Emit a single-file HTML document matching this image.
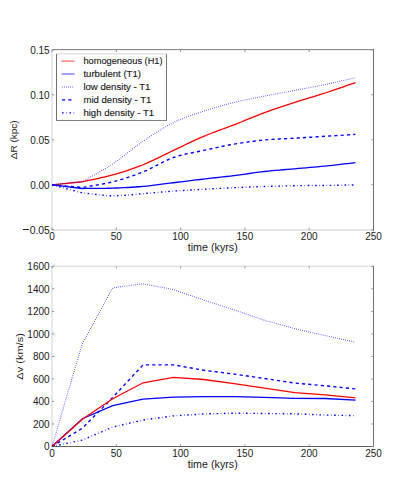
<!DOCTYPE html>
<html><head><meta charset="utf-8"><style>
html,body{margin:0;padding:0;background:#fff;}
body{width:415px;height:496px;overflow:hidden;}
svg{display:block;}
text{font-family:"Liberation Sans",sans-serif;fill:#1a1a1a;}
.lg{stroke:#1a1a1a;stroke-width:0.14px;}
</style></head><body>
<svg width="415" height="496" viewBox="0 0 415 496">

<clipPath id="c1"><rect x="52.0" y="49.8" width="321.5" height="180.0"/></clipPath>
<rect x="52" y="49" width="322" height="1" fill="#8a8a8a"/>
<rect x="52" y="50" width="322" height="1" fill="#f0f0f0"/>
<rect x="52" y="229" width="322" height="2" fill="#e4e4e4"/>
<rect x="51" y="49" width="2" height="182" fill="#e8e8e8"/>
<rect x="373" y="49" width="1" height="182" fill="#6e6e6e"/>
<line x1="52.00" y1="229.8" x2="52.00" y2="227.60000000000002" stroke="#777" stroke-width="0.8"/>
<line x1="52.00" y1="49.8" x2="52.00" y2="52.0" stroke="#777" stroke-width="0.8"/>
<text x="52.00" y="240.20" font-size="10" text-anchor="middle">0</text>
<line x1="116.30" y1="229.8" x2="116.30" y2="227.60000000000002" stroke="#777" stroke-width="0.8"/>
<line x1="116.30" y1="49.8" x2="116.30" y2="52.0" stroke="#777" stroke-width="0.8"/>
<text x="116.30" y="240.20" font-size="10" text-anchor="middle">50</text>
<line x1="180.60" y1="229.8" x2="180.60" y2="227.60000000000002" stroke="#777" stroke-width="0.8"/>
<line x1="180.60" y1="49.8" x2="180.60" y2="52.0" stroke="#777" stroke-width="0.8"/>
<text x="180.60" y="240.20" font-size="10" text-anchor="middle">100</text>
<line x1="244.90" y1="229.8" x2="244.90" y2="227.60000000000002" stroke="#777" stroke-width="0.8"/>
<line x1="244.90" y1="49.8" x2="244.90" y2="52.0" stroke="#777" stroke-width="0.8"/>
<text x="244.90" y="240.20" font-size="10" text-anchor="middle">150</text>
<line x1="309.20" y1="229.8" x2="309.20" y2="227.60000000000002" stroke="#777" stroke-width="0.8"/>
<line x1="309.20" y1="49.8" x2="309.20" y2="52.0" stroke="#777" stroke-width="0.8"/>
<text x="309.20" y="240.20" font-size="10" text-anchor="middle">200</text>
<line x1="373.50" y1="229.8" x2="373.50" y2="227.60000000000002" stroke="#777" stroke-width="0.8"/>
<line x1="373.50" y1="49.8" x2="373.50" y2="52.0" stroke="#777" stroke-width="0.8"/>
<text x="373.50" y="240.20" font-size="10" text-anchor="middle">250</text>
<line x1="52.0" y1="229.80" x2="54.2" y2="229.80" stroke="#777" stroke-width="0.8"/>
<line x1="373.5" y1="229.80" x2="371.3" y2="229.80" stroke="#777" stroke-width="0.8"/>
<text x="49.9" y="233.60" font-size="10" text-anchor="end" textLength="20.2" lengthAdjust="spacingAndGlyphs">0.05</text>
<rect x="22.9" y="229.0" width="6.0" height="1.0" fill="#222"/>
<line x1="52.0" y1="184.80" x2="54.2" y2="184.80" stroke="#777" stroke-width="0.8"/>
<line x1="373.5" y1="184.80" x2="371.3" y2="184.80" stroke="#777" stroke-width="0.8"/>
<text x="49.6" y="188.60" font-size="10" text-anchor="end">0.00</text>
<line x1="52.0" y1="139.80" x2="54.2" y2="139.80" stroke="#777" stroke-width="0.8"/>
<line x1="373.5" y1="139.80" x2="371.3" y2="139.80" stroke="#777" stroke-width="0.8"/>
<text x="49.6" y="143.60" font-size="10" text-anchor="end">0.05</text>
<line x1="52.0" y1="94.80" x2="54.2" y2="94.80" stroke="#777" stroke-width="0.8"/>
<line x1="373.5" y1="94.80" x2="371.3" y2="94.80" stroke="#777" stroke-width="0.8"/>
<text x="49.6" y="98.60" font-size="10" text-anchor="end">0.10</text>
<line x1="52.0" y1="49.80" x2="54.2" y2="49.80" stroke="#777" stroke-width="0.8"/>
<line x1="373.5" y1="49.80" x2="371.3" y2="49.80" stroke="#777" stroke-width="0.8"/>
<text x="49.6" y="53.60" font-size="10" text-anchor="end">0.15</text>
<text x="212.75" y="251" font-size="10" text-anchor="middle" textLength="50" lengthAdjust="spacingAndGlyphs">time (kyrs)</text>
<text x="0" y="0" font-size="9" text-anchor="middle" textLength="39" lengthAdjust="spacingAndGlyphs" transform="translate(17.0,139.80) rotate(-90)">ΔR (kpc)</text>
<g clip-path="url(#c1)" fill="none">
<polyline points="52.00,184.80 82.35,181.74 86.14,180.91 89.94,180.11 93.73,179.32 97.52,178.53 101.32,177.71 105.11,176.84 108.91,175.91 112.70,174.90 116.49,173.82 120.29,172.69 124.08,171.51 127.88,170.28 131.67,168.99 135.46,167.64 139.26,166.22 143.05,164.73 146.84,163.14 150.64,161.44 154.43,159.66 158.23,157.82 162.02,155.96 165.81,154.08 169.61,152.23 173.40,150.42 177.19,148.63 180.99,146.81 184.78,144.99 188.58,143.18 192.37,141.39 196.16,139.63 199.96,137.93 203.75,136.29 207.54,134.73 211.34,133.24 215.13,131.80 218.93,130.40 222.72,129.01 226.51,127.63 230.31,126.22 234.10,124.77 237.89,123.28 241.69,121.75 245.48,120.21 249.28,118.67 253.07,117.13 256.86,115.62 260.66,114.14 264.45,112.71 268.24,111.33 272.04,109.98 275.83,108.66 279.63,107.37 283.42,106.09 287.21,104.84 291.01,103.59 294.80,102.36 298.59,101.15 302.39,99.98 306.18,98.82 309.98,97.69 313.77,96.55 317.56,95.39 321.36,94.21 325.15,93.00 328.94,91.75 332.74,90.47 336.53,89.16 340.32,87.85 344.12,86.52 347.91,85.20 351.71,83.87 355.50,82.56" stroke="#ff0000" stroke-width="1.3"/>
<polyline points="52.00,184.80 82.35,188.49 86.14,188.45 89.94,188.43 93.73,188.41 97.52,188.39 101.32,188.36 105.11,188.31 108.91,188.24 112.70,188.13 116.49,187.99 120.29,187.84 124.08,187.67 127.88,187.48 131.67,187.27 135.46,187.02 139.26,186.74 143.05,186.42 146.84,186.05 150.64,185.64 154.43,185.18 158.23,184.70 162.02,184.20 165.81,183.70 169.61,183.20 173.40,182.73 177.19,182.27 180.99,181.80 184.78,181.33 188.58,180.87 192.37,180.40 196.16,179.94 199.96,179.49 203.75,179.04 207.54,178.60 211.34,178.18 215.13,177.77 218.93,177.36 222.72,176.94 226.51,176.52 230.31,176.08 234.10,175.62 237.89,175.13 241.69,174.60 245.48,174.06 249.28,173.51 253.07,172.96 256.86,172.43 260.66,171.93 264.45,171.48 268.24,171.07 272.04,170.70 275.83,170.36 279.63,170.04 283.42,169.73 287.21,169.42 291.01,169.11 294.80,168.78 298.59,168.45 302.39,168.12 306.18,167.80 309.98,167.47 313.77,167.15 317.56,166.81 321.36,166.45 325.15,166.08 328.94,165.69 332.74,165.28 336.53,164.85 340.32,164.42 344.12,163.97 347.91,163.53 351.71,163.09 355.50,162.66" stroke="#0000ff" stroke-width="1.3"/>
<polyline points="52.00,184.80 82.35,181.74 86.14,179.55 89.94,177.40 93.73,175.27 97.52,173.13 101.32,170.96 105.11,168.72 108.91,166.38 112.70,163.92 116.49,161.29 120.29,158.50 124.08,155.59 127.88,152.63 131.67,149.66 135.46,146.74 139.26,143.91 143.05,141.24 146.84,138.67 150.64,136.13 154.43,133.64 158.23,131.22 162.02,128.89 165.81,126.67 169.61,124.57 173.40,122.61 177.19,120.82 180.99,119.18 184.78,117.68 188.58,116.28 192.37,114.95 196.16,113.68 199.96,112.43 203.75,111.18 207.54,109.94 211.34,108.75 215.13,107.60 218.93,106.49 222.72,105.43 226.51,104.40 230.31,103.41 234.10,102.45 237.89,101.54 241.69,100.69 245.48,99.89 249.28,99.11 253.07,98.37 256.86,97.63 260.66,96.90 264.45,96.15 268.24,95.40 272.04,94.67 275.83,93.95 279.63,93.24 283.42,92.53 287.21,91.82 291.01,91.11 294.80,90.39 298.59,89.67 302.39,88.96 306.18,88.25 309.98,87.53 313.77,86.81 317.56,86.07 321.36,85.32 325.15,84.54 328.94,83.73 332.74,82.90 336.53,82.05 340.32,81.18 344.12,80.31 347.91,79.43 351.71,78.56 355.50,77.70" stroke="#0000ff" stroke-width="1.1" stroke-dasharray="0.55 1.55"/>
<polyline points="52.00,184.80 82.35,187.50 86.14,186.82 89.94,186.18 93.73,185.56 97.52,184.93 101.32,184.27 105.11,183.54 108.91,182.74 112.70,181.83 116.49,180.83 120.29,179.76 124.08,178.63 127.88,177.43 131.67,176.16 135.46,174.82 139.26,173.41 143.05,171.93 146.84,170.30 150.64,168.48 154.43,166.54 158.23,164.56 162.02,162.59 165.81,160.72 169.61,159.01 173.40,157.53 177.19,156.29 180.99,155.22 184.78,154.29 188.58,153.47 192.37,152.71 196.16,151.97 199.96,151.22 203.75,150.42 207.54,149.58 211.34,148.74 215.13,147.90 218.93,147.08 222.72,146.29 226.51,145.52 230.31,144.80 234.10,144.12 237.89,143.48 241.69,142.88 245.48,142.31 249.28,141.77 253.07,141.27 256.86,140.80 260.66,140.37 264.45,139.98 268.24,139.64 272.04,139.37 275.83,139.14 279.63,138.94 283.42,138.76 287.21,138.58 291.01,138.39 294.80,138.18 298.59,137.95 302.39,137.71 306.18,137.48 309.98,137.24 313.77,137.00 317.56,136.76 321.36,136.53 325.15,136.29 328.94,136.05 332.74,135.82 336.53,135.58 340.32,135.35 344.12,135.11 347.91,134.87 351.71,134.64 355.50,134.40" stroke="#0000ff" stroke-width="1.4" stroke-dasharray="3.15 3.15"/>
<polyline points="52.00,184.80 82.35,192.90 86.14,193.29 89.94,193.74 93.73,194.20 97.52,194.66 101.32,195.07 105.11,195.41 108.91,195.66 112.70,195.78 116.49,195.75 120.29,195.60 124.08,195.35 127.88,195.04 131.67,194.68 135.46,194.30 139.26,193.94 143.05,193.62 146.84,193.32 150.64,193.00 154.43,192.67 158.23,192.34 162.02,192.01 165.81,191.69 169.61,191.38 173.40,191.10 177.19,190.84 180.99,190.60 184.78,190.36 188.58,190.14 192.37,189.93 196.16,189.72 199.96,189.51 203.75,189.30 207.54,189.09 211.34,188.87 215.13,188.66 218.93,188.45 222.72,188.25 226.51,188.05 230.31,187.86 234.10,187.68 237.89,187.51 241.69,187.35 245.48,187.19 249.28,187.04 253.07,186.90 256.86,186.77 260.66,186.64 264.45,186.51 268.24,186.39 272.04,186.27 275.83,186.16 279.63,186.05 283.42,185.95 287.21,185.86 291.01,185.77 294.80,185.70 298.59,185.64 302.39,185.60 306.18,185.57 309.98,185.55 313.77,185.53 317.56,185.50 321.36,185.47 325.15,185.43 328.94,185.38 332.74,185.31 336.53,185.25 340.32,185.18 344.12,185.10 347.91,185.03 351.71,184.96 355.50,184.89" stroke="#0000ff" stroke-width="1.4" stroke-dasharray="1.6 2.6 0.55 2.6"/>
</g>
<clipPath id="c2"><rect x="52.0" y="266.3" width="321.5" height="180.2"/></clipPath>
<rect x="52" y="265.5" width="322" height="1.5" fill="#e2e2e2"/>
<rect x="52" y="446" width="322" height="1" fill="#606060"/>
<rect x="51" y="266" width="2" height="181" fill="#e8e8e8"/>
<rect x="373" y="266" width="1" height="181" fill="#6e6e6e"/>
<line x1="52.00" y1="446.5" x2="52.00" y2="444.3" stroke="#777" stroke-width="0.8"/>
<line x1="52.00" y1="266.3" x2="52.00" y2="268.5" stroke="#777" stroke-width="0.8"/>
<text x="52.00" y="456.90" font-size="10" text-anchor="middle">0</text>
<line x1="116.30" y1="446.5" x2="116.30" y2="444.3" stroke="#777" stroke-width="0.8"/>
<line x1="116.30" y1="266.3" x2="116.30" y2="268.5" stroke="#777" stroke-width="0.8"/>
<text x="116.30" y="456.90" font-size="10" text-anchor="middle">50</text>
<line x1="180.60" y1="446.5" x2="180.60" y2="444.3" stroke="#777" stroke-width="0.8"/>
<line x1="180.60" y1="266.3" x2="180.60" y2="268.5" stroke="#777" stroke-width="0.8"/>
<text x="180.60" y="456.90" font-size="10" text-anchor="middle">100</text>
<line x1="244.90" y1="446.5" x2="244.90" y2="444.3" stroke="#777" stroke-width="0.8"/>
<line x1="244.90" y1="266.3" x2="244.90" y2="268.5" stroke="#777" stroke-width="0.8"/>
<text x="244.90" y="456.90" font-size="10" text-anchor="middle">150</text>
<line x1="309.20" y1="446.5" x2="309.20" y2="444.3" stroke="#777" stroke-width="0.8"/>
<line x1="309.20" y1="266.3" x2="309.20" y2="268.5" stroke="#777" stroke-width="0.8"/>
<text x="309.20" y="456.90" font-size="10" text-anchor="middle">200</text>
<line x1="373.50" y1="446.5" x2="373.50" y2="444.3" stroke="#777" stroke-width="0.8"/>
<line x1="373.50" y1="266.3" x2="373.50" y2="268.5" stroke="#777" stroke-width="0.8"/>
<text x="373.50" y="456.90" font-size="10" text-anchor="middle">250</text>
<line x1="52.0" y1="446.50" x2="54.2" y2="446.50" stroke="#777" stroke-width="0.8"/>
<line x1="373.5" y1="446.50" x2="371.3" y2="446.50" stroke="#777" stroke-width="0.8"/>
<text x="49.6" y="450.30" font-size="10" text-anchor="end">0</text>
<line x1="52.0" y1="423.98" x2="54.2" y2="423.98" stroke="#777" stroke-width="0.8"/>
<line x1="373.5" y1="423.98" x2="371.3" y2="423.98" stroke="#777" stroke-width="0.8"/>
<text x="49.6" y="427.78" font-size="10" text-anchor="end">200</text>
<line x1="52.0" y1="401.45" x2="54.2" y2="401.45" stroke="#777" stroke-width="0.8"/>
<line x1="373.5" y1="401.45" x2="371.3" y2="401.45" stroke="#777" stroke-width="0.8"/>
<text x="49.6" y="405.25" font-size="10" text-anchor="end">400</text>
<line x1="52.0" y1="378.93" x2="54.2" y2="378.93" stroke="#777" stroke-width="0.8"/>
<line x1="373.5" y1="378.93" x2="371.3" y2="378.93" stroke="#777" stroke-width="0.8"/>
<text x="49.6" y="382.73" font-size="10" text-anchor="end">600</text>
<line x1="52.0" y1="356.40" x2="54.2" y2="356.40" stroke="#777" stroke-width="0.8"/>
<line x1="373.5" y1="356.40" x2="371.3" y2="356.40" stroke="#777" stroke-width="0.8"/>
<text x="49.6" y="360.20" font-size="10" text-anchor="end">800</text>
<line x1="52.0" y1="333.88" x2="54.2" y2="333.88" stroke="#777" stroke-width="0.8"/>
<line x1="373.5" y1="333.88" x2="371.3" y2="333.88" stroke="#777" stroke-width="0.8"/>
<text x="49.6" y="337.68" font-size="10" text-anchor="end">1000</text>
<line x1="52.0" y1="311.35" x2="54.2" y2="311.35" stroke="#777" stroke-width="0.8"/>
<line x1="373.5" y1="311.35" x2="371.3" y2="311.35" stroke="#777" stroke-width="0.8"/>
<text x="49.6" y="315.15" font-size="10" text-anchor="end">1200</text>
<line x1="52.0" y1="288.83" x2="54.2" y2="288.83" stroke="#777" stroke-width="0.8"/>
<line x1="373.5" y1="288.83" x2="371.3" y2="288.83" stroke="#777" stroke-width="0.8"/>
<text x="49.6" y="292.63" font-size="10" text-anchor="end">1400</text>
<line x1="52.0" y1="266.30" x2="54.2" y2="266.30" stroke="#777" stroke-width="0.8"/>
<line x1="373.5" y1="266.30" x2="371.3" y2="266.30" stroke="#777" stroke-width="0.8"/>
<text x="49.6" y="270.10" font-size="10" text-anchor="end">1600</text>
<text x="212.75" y="467.8" font-size="10" text-anchor="middle" textLength="50" lengthAdjust="spacingAndGlyphs">time (kyrs)</text>
<text x="0" y="0" font-size="9" text-anchor="middle" textLength="46.5" lengthAdjust="spacingAndGlyphs" transform="translate(22.6,356.40) rotate(-90)">Δv (km/s)</text>
<g clip-path="url(#c2)" fill="none">
<polyline points="52.00,446.50 82.35,418.68 112.70,405.62 143.05,399.08 173.40,397.06 203.75,396.72 234.10,396.72 264.45,397.28 294.80,398.30 325.15,398.52 355.50,400.10" stroke="#0000ff" stroke-width="1.3"/>
<polyline points="52.00,446.50 82.35,343.67 112.70,287.92 143.05,283.76 173.40,289.61 203.75,300.20 234.10,309.89 264.45,320.36 294.80,328.69 325.15,335.56 355.50,342.21" stroke="#0000ff" stroke-width="1.1" stroke-dasharray="0.55 1.55"/>
<polyline points="52.00,446.50 82.35,428.25 112.70,397.51 143.05,364.85 173.40,364.85 203.75,370.25 234.10,374.08 264.45,378.47 294.80,383.09 325.15,385.80 355.50,388.95" stroke="#0000ff" stroke-width="1.4" stroke-dasharray="3.15 3.15"/>
<polyline points="52.00,446.50 82.35,440.08 112.70,427.13 143.05,420.03 173.40,415.87 203.75,413.95 234.10,413.16 264.45,413.50 294.80,413.84 325.15,415.08 355.50,415.64" stroke="#0000ff" stroke-width="1.4" stroke-dasharray="1.6 2.6 0.55 2.6"/>
<polyline points="52.00,446.50 82.35,419.24 112.70,398.75 143.05,382.75 173.40,377.46 203.75,379.49 234.10,383.66 264.45,388.16 294.80,392.55 325.15,394.81 355.50,397.96" stroke="#ff0000" stroke-width="1.3"/>
</g>
<rect x="56" y="53" width="111" height="68" fill="#fff"/>
<rect x="56" y="53" width="111" height="1.6" fill="#e4e4e4"/>
<rect x="56" y="54" width="1" height="67" fill="#707070"/>
<rect x="166" y="54" width="1" height="67" fill="#777"/>
<rect x="56" y="120" width="111" height="1" fill="#808080"/>
<line x1="61.6" y1="61.10" x2="74.5" y2="61.10" fill="none" stroke="#ff0000" stroke-width="1.0" stroke-opacity="0.75"/>
<text class="lg" x="83.4" y="64.40" font-size="9.6" textLength="79.2" lengthAdjust="spacingAndGlyphs">homogeneous (H1)</text>
<line x1="61.6" y1="74.03" x2="74.5" y2="74.03" fill="none" stroke="#0000ff" stroke-width="1.0" stroke-opacity="0.75"/>
<text class="lg" x="83.4" y="77.33" font-size="9.6">turbulent (T1)</text>
<line x1="62.0" y1="86.96" x2="74.0" y2="86.96" fill="none" stroke="#0000ff" stroke-width="1.1" stroke-dasharray="0.6 1.5" stroke-dasharray-offset="0"/>
<text class="lg" x="83.4" y="90.26" font-size="9.6">low density - T1</text>
<line x1="62.0" y1="99.89" x2="74.0" y2="99.89" fill="none" stroke="#0000ff" stroke-width="1.3" stroke-dasharray="3.2 3.1"/>
<text class="lg" x="83.4" y="103.19" font-size="9.6">mid density - T1</text>
<line x1="62.0" y1="112.82" x2="74.8" y2="112.82" fill="none" stroke="#0000ff" stroke-width="1.2" stroke-dasharray="1.6 2.6 0.6 2.6"/>
<text class="lg" x="83.4" y="116.12" font-size="9.6">high density - T1</text>
</svg></body></html>
